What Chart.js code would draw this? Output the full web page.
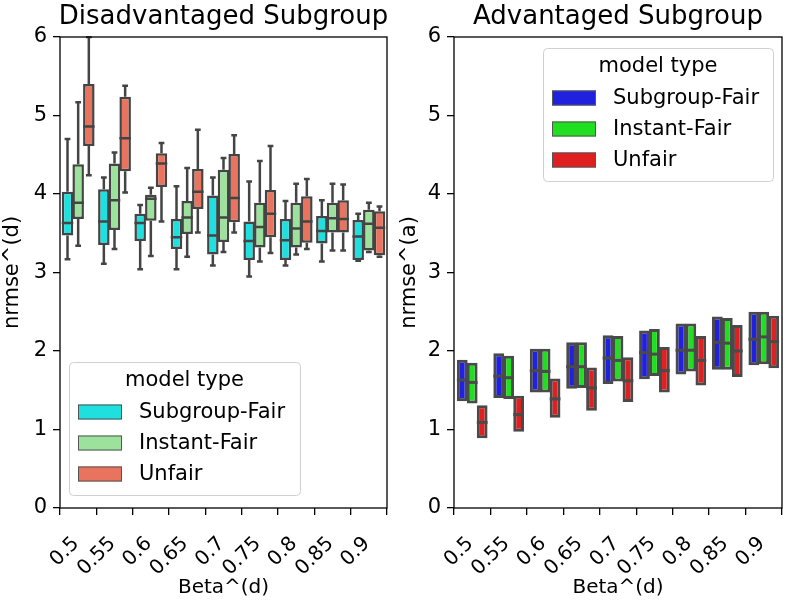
<!DOCTYPE html>
<html>
<head>
<meta charset="utf-8">
<script src="https://cdn.jsdelivr.net/npm/chart.js@4.4.0/dist/chart.umd.min.js"></script>
<style>
  body { margin: 0; background: #fff; }
  #wrap { position: relative; width: 786px; height: 600px; }
  .pane { position: absolute; top: 0; width: 393px; height: 600px; }
</style>
</head>
<body>
<div id="wrap">
  <div class="pane" style="left:0"><canvas id="left" width="393" height="600"></canvas></div>
  <div class="pane" style="left:393px"><canvas id="right" width="393" height="600"></canvas></div>
</div>
<script>
var betas = ['0.5', '0.55', '0.6', '0.65', '0.7', '0.75', '0.8', '0.85', '0.9'];
var modelTypes = ['Subgroup-Fair', 'Instant-Fair', 'Unfair'];
var yTicks = [0, 1, 2, 3, 4, 5, 6];

// each entry: [whisker low, q1, median, q3, whisker high]
var disSubgroupFair = [[3.17,3.47,3.63,4.03,4.70],[3.11,3.35,3.65,4.06,4.21],[3.04,3.40,3.63,3.75,3.86],[3.04,3.30,3.45,3.68,4.10],[3.09,3.23,3.47,3.98,4.21],[2.95,3.16,3.40,3.65,4.16],[3.09,3.16,3.41,3.68,3.91],[3.14,3.37,3.53,3.72,3.92],[3.15,3.16,3.46,3.67,3.75]];
var disInstantFair  = [[3.34,3.68,3.89,4.38,5.17],[3.30,3.54,3.92,4.39,4.53],[3.21,3.66,3.94,3.99,4.08],[3.20,3.49,3.70,3.91,4.33],[3.26,3.39,3.70,4.31,4.46],[3.14,3.32,3.58,3.89,4.42],[3.23,3.32,3.56,3.89,4.13],[3.28,3.51,3.69,3.89,4.13],[3.26,3.28,3.62,3.80,3.89]];
var disUnfair       = [[4.24,4.61,4.86,5.40,6.00],[4.02,4.29,4.71,5.24,5.38],[3.65,4.09,4.39,4.52,4.65],[3.51,3.81,4.03,4.32,4.82],[3.51,3.64,3.95,4.51,4.75],[3.25,3.45,3.75,4.05,4.61],[3.30,3.38,3.65,3.97,4.19],[3.28,3.51,3.68,3.92,4.12],[3.20,3.22,3.57,3.78,3.84]];

var advSubgroupFair = [[1.36,1.36,1.63,1.89,1.89],[1.40,1.40,1.68,1.97,1.97],[1.47,1.47,1.75,2.03,2.03],[1.52,1.52,1.80,2.11,2.11],[1.58,1.58,1.91,2.20,2.20],[1.64,1.64,1.98,2.26,2.26],[1.70,1.70,2.01,2.35,2.35],[1.76,1.76,2.11,2.44,2.44],[1.82,1.82,2.15,2.50,2.50]];
var advInstantFair  = [[1.33,1.33,1.60,1.85,1.85],[1.39,1.39,1.66,1.94,1.94],[1.47,1.47,1.74,2.03,2.03],[1.53,1.53,1.80,2.11,2.11],[1.61,1.61,1.88,2.19,2.19],[1.68,1.68,1.96,2.28,2.28],[1.74,1.74,2.01,2.35,2.35],[1.76,1.76,2.10,2.42,2.42],[1.83,1.83,2.18,2.50,2.50]];
var advUnfair       = [[0.89,0.89,1.09,1.31,1.31],[0.97,0.97,1.19,1.43,1.43],[1.15,1.15,1.39,1.65,1.65],[1.24,1.24,1.53,1.79,1.79],[1.35,1.35,1.62,1.92,1.92],[1.47,1.47,1.75,2.05,2.05],[1.56,1.56,1.88,2.19,2.19],[1.67,1.67,2.00,2.33,2.33],[1.78,1.78,2.12,2.45,2.45]];

var leftColors = ['#20dfdf', '#9ce29c', '#e8735e'];
var rightColors = ['#2020df', '#20df20', '#df2020'];

Chart.defaults.font.family = 'DejaVu Sans';
Chart.defaults.color = '#000';

// whiskers, caps and median lines on top of the floating bars
var boxPlugin = {
  id: 'boxWhiskers',
  afterDatasetsDraw: function(chart) {
    var ctx = chart.ctx, ys = chart.scales.y, a = chart.chartArea;
    ctx.save();
    ctx.beginPath();
    ctx.rect(a.left, a.top - 1, a.right - a.left, a.bottom - a.top + 2);
    ctx.clip();
    chart.data.datasets.forEach(function(ds, i) {
      var meta = chart.getDatasetMeta(i);
      meta.data.forEach(function(bar, j) {
        var s = ds.stats[j];
        var x = bar.x, w = bar.width, cap = w / 4;
        ctx.strokeStyle = ds.borderColor;
        ctx.lineWidth = ds.borderWidth;
        ctx.lineCap = 'butt';
        ctx.beginPath();
        if (s[4] > s[3]) {
          ctx.moveTo(x, ys.getPixelForValue(s[3]));
          ctx.lineTo(x, ys.getPixelForValue(s[4]));
          ctx.moveTo(x - cap, ys.getPixelForValue(s[4]));
          ctx.lineTo(x + cap, ys.getPixelForValue(s[4]));
        }
        if (s[0] < s[1]) {
          ctx.moveTo(x, ys.getPixelForValue(s[1]));
          ctx.lineTo(x, ys.getPixelForValue(s[0]));
          ctx.moveTo(x - cap, ys.getPixelForValue(s[0]));
          ctx.lineTo(x + cap, ys.getPixelForValue(s[0]));
        }
        var my = ys.getPixelForValue(s[2]);
        ctx.moveTo(x - w / 2, my);
        ctx.lineTo(x + w / 2, my);
        ctx.stroke();
      });
    });
    ctx.restore();
  }
};

// title, axes frame and legend box
var framePlugin = {
  id: 'frameLegend',
  afterDraw: function(chart) {
    var ctx = chart.ctx, a = chart.chartArea;
    var o = chart.options.plugins.frameLegend;
    ctx.save();
    ctx.strokeStyle = '#000';
    ctx.lineWidth = 1.3;
    ctx.strokeRect(a.left, a.top, a.right - a.left, a.bottom - a.top);

    ctx.fillStyle = '#000';
    ctx.font = '26px "DejaVu Sans"';
    ctx.textAlign = 'center';
    ctx.textBaseline = 'alphabetic';
    ctx.fillText(o.title, (a.left + a.right) / 2, 24);

    var lx = o.fromRight ? a.right - o.dx - o.w : a.left + o.dx;
    var ly = o.fromBottom ? a.bottom - o.dy - o.h : a.top + o.dy;
    ctx.fillStyle = 'rgba(255,255,255,0.8)';
    ctx.strokeStyle = '#d0d0d0';
    ctx.lineWidth = 1;
    ctx.beginPath();
    ctx.roundRect(lx + 0.5, ly + 0.5, o.w, o.h, 4);
    ctx.fill();
    ctx.stroke();

    ctx.fillStyle = '#000';
    ctx.font = '21px "DejaVu Sans"';
    ctx.textAlign = 'center';
    ctx.textBaseline = 'middle';
    ctx.fillText('model type', lx + o.w / 2, ly + 19);
    ctx.textAlign = 'left';
    chart.data.datasets.forEach(function(ds, i) {
      var ry = ly + 50 + i * 31;
      ctx.fillStyle = ds.backgroundColor;
      ctx.fillRect(lx + 9, ry - 7.5, 44, 15);
      ctx.strokeStyle = '#555';
      ctx.lineWidth = 1;
      ctx.strokeRect(lx + 9.5, ry - 7, 43, 14);
      ctx.fillStyle = '#000';
      ctx.fillText(ds.label, lx + 70, ry + 1);
    });
    ctx.restore();
  }
};

function makePanel(id, title, yTitle, series, colors, edge, catPct, barPct, legendPos, leftWidth, rightPad, yTitlePad) {
  var datasets = series.map(function(stats, i) {
    return {
      label: modelTypes[i],
      data: stats.map(function(s) { return [s[1], s[3]]; }),
      stats: stats,
      backgroundColor: colors[i],
      borderColor: edge.color,
      borderWidth: edge.width,
      borderSkipped: false,
      categoryPercentage: catPct,
      barPercentage: barPct
    };
  });
  legendPos.title = title;
  return new Chart(document.getElementById(id), {
    type: 'bar',
    data: { labels: betas, datasets: datasets },
    options: {
      responsive: false,
      animation: false,
      layout: { padding: { left: 0, right: rightPad, top: 37, bottom: 0 } },
      plugins: {
        legend: { display: false },
        tooltip: { enabled: false },
        title: { display: false },
        frameLegend: legendPos
      },
      scales: {
        x: {
          grid: { display: true, drawOnChartArea: false, drawTicks: true, tickLength: 7, color: '#000', lineWidth: 1.3 },
          border: { display: false },
          ticks: { autoSkip: false, minRotation: 45, maxRotation: 45, padding: 17, labelOffset: -2, font: { size: 20 }, color: '#000' },
          title: { display: true, text: 'Beta^(d)', font: { size: 20 }, color: '#000', padding: { top: 0, bottom: 0 } },
          afterFit: function(scale) {
            scale.height = 92;
            scale.paddingLeft = 0;
            scale.paddingRight = 0;
          }
        },
        y: {
          min: 0, max: 6,
          afterBuildTicks: function(scale) { scale.ticks = yTicks.map(function(v) { return { value: v }; }); },
          grid: { display: true, drawOnChartArea: false, drawTicks: true, tickLength: 7, color: '#000', lineWidth: 1.3 },
          border: { display: false },
          ticks: { padding: 6, font: { size: 21 }, color: '#000' },
          title: { display: true, text: yTitle, font: { size: 21 }, color: '#000', padding: { top: yTitlePad, bottom: 0 } },
          afterFit: function(scale) { scale.width = leftWidth; }
        }
      }
    },
    plugins: [boxPlugin, framePlugin]
  });
}

makePanel('left', 'Disadvantaged Subgroup', 'nrmse^(d)',
  [disSubgroupFair, disInstantFair, disUnfair], leftColors,
  { color: '#444444', width: 2.5 }, 0.88, 1.08,
  { fromRight: false, fromBottom: true, dx: 9, dy: 13, w: 231, h: 133 }, 60, 6, 0);

makePanel('right', 'Advantaged Subgroup', 'nrmse^(a)',
  [advSubgroupFair, advInstantFair, advUnfair], rightColors,
  { color: '#4a4a4a', width: 3 }, 0.82, 1.08,
  { fromRight: true, fromBottom: false, dx: 9, dy: 11, w: 230, h: 133 }, 61, 4, 4);
</script>
</body>
</html>
